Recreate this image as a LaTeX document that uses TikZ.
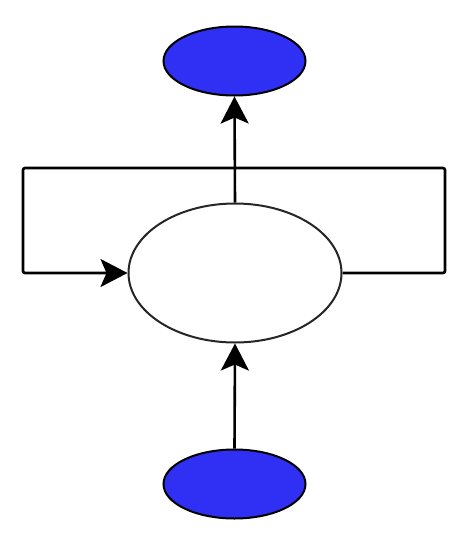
\documentclass[tikz,border=0pt]{standalone}
\usetikzlibrary{arrows.meta,shapes.geometric}
\definecolor{nodeblue}{RGB}{48,48,245}
\tikzset{
  blueell/.style={ellipse, draw=black, line width=2pt, fill=nodeblue, minimum width=142pt, minimum height=69pt, inner sep=0pt},
  whiteell/.style={ellipse, draw=black!85, line width=2pt, fill=white, minimum width=213pt, minimum height=139pt, inner sep=0pt},
  conn/.style={draw=black, line width=2.6pt, -{Stealth[length=27pt,width=28pt,inset=6pt]}, rounded corners=2pt},
}
\begin{document}
\begin{tikzpicture}[x=1pt,y=-1pt]
\useasboundingbox (0,0) rectangle (473,550);
\node[blueell] (top) at (234.5,61) {};
\node[whiteell] (mid) at (235,273) {};
\node[blueell] (bot) at (234.5,484) {};
\coordinate (r1) at (445,273);
\coordinate (r2) at (445,168);
\coordinate (l1) at (23,168);
\coordinate (l2) at (23,273);
\draw[conn] (bot.north) -- (mid.south);
\draw[conn] (mid.north) -- (top.south);
\draw[conn] (mid.east) -- (r1) -- (r2) -- (l1) -- (l2) -- (mid.west);
\end{tikzpicture}
\end{document}
